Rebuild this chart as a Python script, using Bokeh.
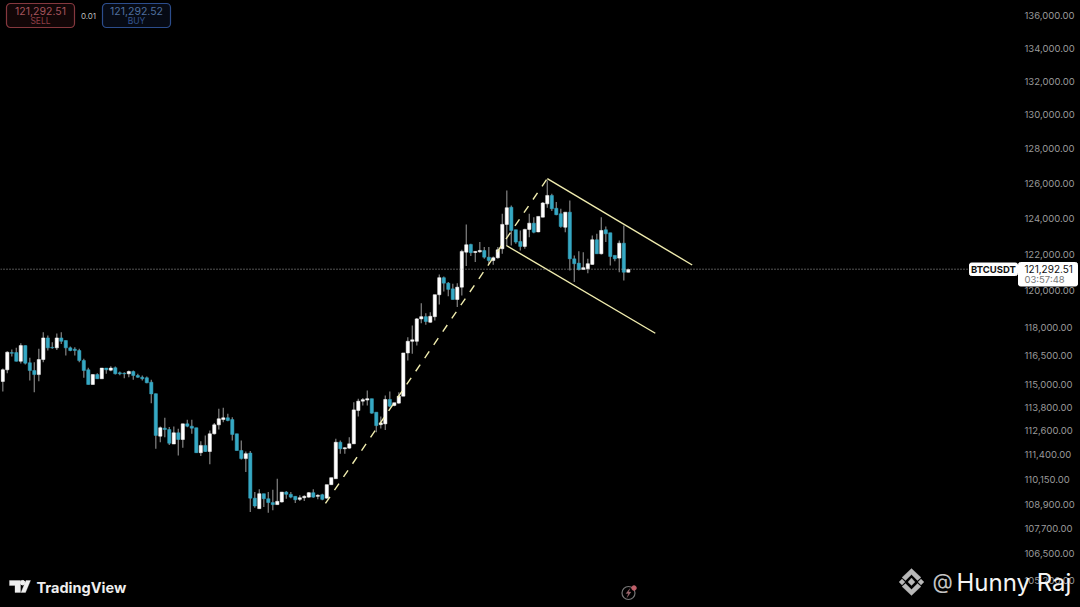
import math
from bokeh.plotting import figure
from bokeh.models import Label, BoxAnnotation, FixedTicker, NumeralTickFormatter, Range1d
from bokeh.embed import file_html
from bokeh.resources import INLINE

opens = [115160,115770,116680,116680,116220,117050,116140,115730,115520,116310,
117460,116960,116930,117460,117320,116930,116860,116790,116260,115770,
115000,115520,115300,115860,115750,115880,115610,115590,115560,115680,
115470,115380,115350,115120,114520,112330,112740,112670,111930,112500,
112160,112960,112840,112760,111490,111860,111550,112450,112910,113180,
113270,113180,112450,111600,111190,111470,109210,108690,109430,109180,
108990,108890,109020,109510,109400,109300,109150,109230,109260,109480,
109300,109380,109210,109880,110180,112020,111690,111720,111940,113650,
114130,114190,114260,113560,112920,112960,114220,113910,114030,114390,
116660,117280,117280,118480,118600,118300,118600,119790,120720,120420,
120110,119530,120200,122130,122560,122110,122150,122220,121850,121670,
121820,122320,123680,124650,123380,122720,122450,123400,123750,123260,
124090,124840,125320,124590,124280,123520,124370,121760,121520,121170,
121210,121450,122820,122040,123380,123210,121950,121800,122630,121020]
closes = [115770,116700,116640,116220,117050,116120,115730,115520,116310,117460,
116930,116930,117460,117280,116930,116790,116790,116260,115730,115000,
115520,115300,115860,115770,115860,115560,115560,115560,115680,115470,
115380,115300,115090,114510,112370,112760,112670,111970,112500,112160,
112960,112840,112740,111490,111860,111550,112450,112910,113220,113270,
113130,112420,111600,111190,111440,109210,108820,109430,109180,108990,
108890,109050,109510,109400,109260,109130,109230,109300,109480,109260,
109350,109150,109880,110230,112020,111690,111740,111940,113680,114130,
114210,114260,113510,112870,113010,114220,113870,114050,114390,116660,
117280,117360,118480,118600,118340,118620,119790,120720,120420,120080,
119530,120200,122170,122540,122100,122170,122225,121850,121670,121820,
122260,123680,124620,123340,122690,122450,123400,123750,123240,124130,
124890,125320,124560,124230,123560,124370,121760,121490,121170,121270,
121490,122820,122040,123340,123150,121890,121760,122630,121020,121170]
highs = [115840,116750,116840,116930,117170,117050,116400,116170,116880,117760,
117590,117230,117700,117760,117320,117000,116960,116880,116350,115880,
115520,115590,115860,115860,115960,115950,115680,115640,115730,115730,
115560,115470,115420,115250,114530,112820,113280,112800,112820,112710,
112960,113170,113170,112760,112070,112370,112620,113010,113740,113790,
113480,113300,112450,112110,111550,111570,109510,109650,109430,109510,
109630,110180,109510,109560,109510,109300,109350,109350,109510,109650,
109400,109430,109880,110230,112200,112110,111770,112280,114080,114260,
114290,114690,114260,113560,113340,114430,114640,114050,114600,116660,
117500,118120,118530,119330,118780,118840,119790,120900,120790,120480,
120390,120420,122260,123680,122600,122190,122690,122410,122410,121890,
122410,124280,125600,124750,123380,123340,123440,124280,124090,124130,
124940,126170,125410,124940,124560,124370,125030,121950,122180,122130,
121760,123060,123150,124090,123560,123210,121950,122780,123620,121210]
lows = [114630,115590,116470,116210,116100,116050,115210,114600,115170,116170,
116790,116880,116820,117140,116520,116750,116520,116170,115350,115000,
115000,115300,115300,115560,115700,115520,115490,115330,115380,115250,
115350,115210,115070,114030,111690,112020,112280,111880,111930,111350,
111740,112790,112450,111490,111320,111520,110900,112420,112670,113040,
113100,112110,111600,111150,110510,108520,108740,108690,108770,108490,
108610,108890,108990,109180,109210,108970,109070,109070,109230,109230,
109150,109100,109180,109880,110180,111440,111440,111690,111940,113340,
113910,113910,113480,112530,112720,112650,113820,113870,114000,114390,
116260,116620,117050,118240,118170,118270,118390,119260,119970,119700,
119530,119120,119750,121360,121910,121580,122100,121760,121490,121430,
121760,122040,122500,122500,122600,122220,122320,122960,123190,123240,
124090,124620,124430,124190,123490,123240,121120,120480,121120,121170,
120970,121430,122040,122000,122690,121390,121630,121020,120570,121010]

y_ticks = [136000,134000,132000,130000,128000,126000,124000,122000,120000,118000,
           116500,115000,113800,112600,111400,110150,108900,107700,106500,105200]

rise_idx = [71.7, 121.0]
rise_price = [108950, 126285]
upper_idx = [121.0, 153.2]
upper_price = [126285, 121420]
lower_idx = [111.9, 145.0]
lower_price = [122500, 117710]

last_price = "121,292.51"
ask_price = "121,292.52"
countdown = "03:57:48"
symbol = "BTCUSDT"

W, H = 1080, 607
TEAL = "#36a9c4"
WICK = "#7a7a7a"
TREND = "#f0ecae"

def X(px):
    return (px - 2.3) / 4.5

def Y(py):
    return 136000 * math.exp(-(py - 15) / 2200)

p = figure(width=W, height=H, frame_width=W, frame_height=H,
           x_range=Range1d(X(0), X(W)), y_range=Range1d(Y(H), Y(0)),
           y_axis_type="log", y_axis_location="right", x_axis_location=None,
           output_backend="svg", toolbar_location=None,
           background_fill_color="#000000", border_fill_color="#000000",
           min_border=0, outline_line_color=None)
p.grid.visible = False

ax = p.yaxis[0]
ax.ticker = FixedTicker(ticks=y_ticks, minor_ticks=[])
ax.formatter = NumeralTickFormatter(format="0,0.00")
ax.major_tick_line_color = None
ax.minor_tick_line_color = None
ax.axis_line_color = None
ax.major_tick_out = 0
ax.major_tick_in = 0
ax.major_label_standoff = -56
ax.major_label_text_color = "#9a9a9a"
ax.major_label_text_font = "Inter"
ax.major_label_text_font_size = "9.5px"

idx = list(range(len(opens)))
up = [i for i in idx if closes[i] >= opens[i]]
dn = [i for i in idx if closes[i] < opens[i]]

p.segment(x0=idx, x1=idx, y0=lows, y1=highs, line_color=WICK, line_width=1.3)
p.vbar(x=dn, width=0.72, top=[opens[i] for i in dn], bottom=[closes[i] for i in dn],
       fill_color=TEAL, line_color=TEAL, line_width=0.5)
p.vbar(x=up, width=0.72, top=[closes[i] for i in up], bottom=[opens[i] for i in up],
       fill_color="#ffffff", line_color="#ffffff", line_width=0.5)

p.line(rise_idx, rise_price, line_color=TREND, line_width=1.4, line_dash="8 8")
p.line(upper_idx, upper_price, line_color=TREND, line_width=1.4)
p.line(lower_idx, lower_price, line_color=TREND, line_width=1.4)

# last price line
p.line([X(0), X(968)], [Y(268.7), Y(268.7)], line_color="#a8a8a8", line_width=1, line_dash="1 2")

def box(l, r, t, b, fill, line, lw=1, radius=3):
    p.add_layout(BoxAnnotation(left=X(l), right=X(r), top=Y(t), bottom=Y(b),
                               fill_color=fill, fill_alpha=1, line_color=line, line_alpha=1,
                               line_width=lw, border_radius=radius, level="annotation"))

def txt(px, py, s, color, size, align="left", font="Inter", style="normal"):
    p.add_layout(Label(x=X(px), y=Y(py), text=s, text_color=color, text_font_size=size,
                       text_align=align, text_baseline="middle", text_font=font,
                       text_font_style=style, level="overlay"))

# order ticket
box(6, 74, 3, 27, "#120607", "#85383e", 1.2, 4)
box(102, 170, 3, 27, "#060a14", "#2c4d8c", 1.2, 4)
txt(40, 10, last_price, "#a5545c", "10.5px", "center")
txt(40, 20, "SELL", "#8f3f46", "8.5px", "center")
txt(136, 10, ask_price, "#4f6f9f", "10.5px", "center")
txt(136, 20, "BUY", "#34558f", "8.5px", "center")
txt(88, 15, "0.01", "#bdbdbd", "8px", "center")

# price tags
box(969, 1017, 262.5, 275, "#ffffff", "#ffffff", 1, 2)
txt(993, 269, symbol, "#111111", "9.5px", "center", style="bold")
box(1018, 1077, 262, 285.5, "#ffffff", "#ffffff", 1, 2)
txt(1024, 268.5, last_price, "#111111", "10px")
txt(1024, 279, countdown, "#777777", "9.5px")

# TradingView mark
def poly(pts, color):
    p.patch([X(a) for a, _ in pts], [Y(b) for _, b in pts], fill_color=color, line_color=color, line_width=0.3)

poly([(9, 580), (20, 580), (20, 592), (14.5, 592), (14.5, 585), (9, 585)], "#eeeeee")
poly([(30, 580), (25.5, 580), (20.5, 592), (25, 592)], "#eeeeee")
p.scatter([X(22.2)], [Y(582.2)], size=4.5, color="#eeeeee")
txt(36, 587, "TradingView", "#eeeeee", "14.5px", style="bold")

# lightning icon
p.scatter([X(628)], [Y(592.5)], size=13, fill_alpha=0, line_color="#777777", line_width=1.2)
poly([(629.5, 588), (625.5, 593), (628, 593), (626.5, 597), (630.5, 591.5), (628, 591.5)], "#a06a70")
p.scatter([X(633.5)], [Y(587.5)], size=4.5, color="#c0606a")

# watermark
G = "#b8b8b8"
poly([(911, 568), (920.5, 577), (917, 580), (911, 574), (905, 580), (901.5, 577)], G)
poly([(911, 595), (920.5, 586), (917, 583), (911, 589), (905, 583), (901.5, 586)], G)
poly([(911, 577.5), (914.5, 581.5), (911, 585), (907.5, 581.5)], G)
poly([(901.5, 578.5), (904.5, 581.5), (901.5, 584.5), (898.5, 581.5)], G)
poly([(920.5, 578.5), (923.5, 581.5), (920.5, 584.5), (917.5, 581.5)], G)
txt(932, 581, "@", "#c4c4c4", "21px", font="Inter")
txt(956, 582, "Hunny Raj", "#f4f4f4", "24px", font="Inter")

html = file_html(p, INLINE)
html = html.replace("</head>", "<style>html,body{margin:0;padding:0;background:#000;overflow:hidden}</style></head>", 1)
open("out.html", "w").write(html)
